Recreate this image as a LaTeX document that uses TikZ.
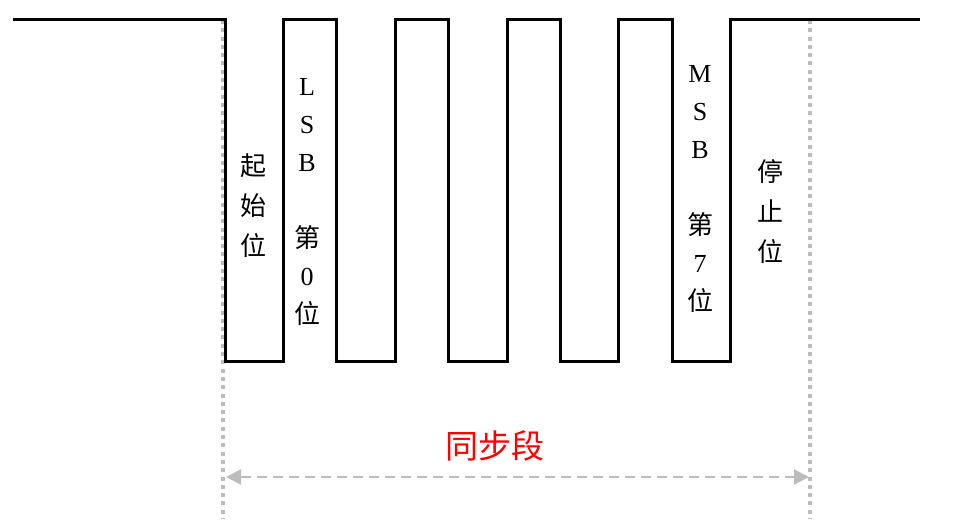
\documentclass[tikz,border=0pt]{standalone}
\usepackage{fontspec}
\setmainfont{Liberation Serif}
\newfontfamily\cjk{Noto Sans CJK SC}
\usetikzlibrary{arrows.meta}
\definecolor{guidegray}{RGB}{188,188,188}
\definecolor{syncred}{RGB}{255,0,0}
\begin{document}
\begin{tikzpicture}[x=1pt,y=-1pt,
  wave/.style={line width=3pt, line join=miter, draw=black},
  guide/.style={draw=guidegray, line width=4pt, dash pattern=on 4pt off 4.3pt},
  spanarrow/.style={draw=guidegray, line width=2pt, dash pattern=on 10pt off 6pt,
    {Triangle[length=15pt,width=15pt,fill=guidegray]}-{Triangle[length=15pt,width=15pt,fill=guidegray]}},
  bitcol/.style={align=center, inner sep=0pt, font=\fontsize{26}{38}\selectfont},
  cjkcol/.style={align=center, inner sep=0pt, font=\cjk\fontsize{26}{40}\selectfont},
  synclabel/.style={inner sep=0pt, text=syncred, font=\cjk\fontsize{33}{33}\selectfont},
]
\useasboundingbox (0,0) rectangle (963,519);

% guide lines
\coordinate (gl0) at (223,20);
\coordinate (gl1) at (223,519);
\coordinate (gr0) at (810,20);
\coordinate (gr1) at (810,519);
\draw[guide] (gl0) -- (gl1);
\draw[guide] (gr0) -- (gr1);

% waveform
\draw[wave] (13,20) -- (225.5,20) -- (225.5,361.5) -- (283,361.5) -- (283,20)
  -- (336,20) -- (336,361.5) -- (395,361.5) -- (395,20)
  -- (448,20) -- (448,361.5) -- (507,361.5) -- (507,20)
  -- (560,20) -- (560,361.5) -- (618,361.5) -- (618,20)
  -- (672,20) -- (672,361.5) -- (730,361.5) -- (730,20) -- (920,20);

% labels
\node[cjkcol] (startbit) at (253,206) {起\\始\\位};
\node[bitcol] (lsb) at (307,202) {L\\S\\B\\[38pt]{\cjk 第}\\0\\{\cjk 位}};
\node[bitcol] (msb) at (700,189) {M\\S\\B\\[38pt]{\cjk 第}\\7\\{\cjk 位}};
\node[cjkcol] (stopbit) at (770,212) {停\\止\\位};

% span arrow
\coordinate (al) at (226,477);
\coordinate (ar) at (809,477);
\draw[spanarrow] (al) -- (ar);
\node[synclabel] (sync) at (495,446) {同步段};
\end{tikzpicture}
\end{document}
